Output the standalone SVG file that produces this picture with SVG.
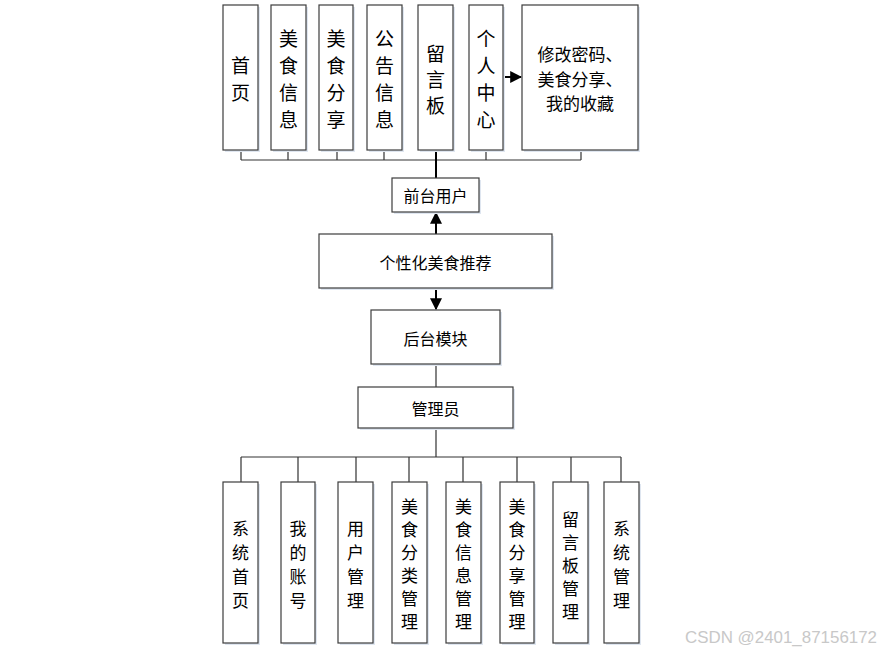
<svg xmlns="http://www.w3.org/2000/svg" width="880" height="653" viewBox="0 0 880 653">
<style>
.box{fill:#fff;stroke:#3c3c3c;stroke-width:1.2}
.sh{fill:#dfe6f0}
.t{font-family:"Noto Sans CJK SC","Liberation Sans",sans-serif;fill:#000;text-anchor:middle;dominant-baseline:central}
.t20{font-size:19px}
.t18{font-size:17px}
.t17{font-size:16px}
.ln{stroke:#333;stroke-width:1.2;fill:none}
.lb{stroke:#000;stroke-width:2;fill:none}
.wm{font-family:"Liberation Sans",Arial,sans-serif;font-size:16.5px;fill:#c8c8c8}
</style>
<defs>
<marker id="ah2" viewBox="0 0 10 10" refX="9" refY="5" markerWidth="12" markerHeight="12" orient="auto" markerUnits="userSpaceOnUse">
<path d="M0,0 L10,5 L0,10 z" fill="#000"/>
</marker>
</defs>
<rect width="880" height="653" fill="#fff"/>

<g id="connectors">
<path class="ln" d="M241,150V160M288,150V160M337,150V160M384,150V160M486,150V160M581,150V160M241,160H581"/>
<path class="lb" d="M436,150V178"/>
<path class="lb" d="M503,77H521" marker-end="url(#ah2)"/>
<path class="lb" d="M436,234V213" marker-end="url(#ah2)"/>
<path class="lb" d="M436,288V309" marker-end="url(#ah2)"/>
<path class="ln" d="M436,364V387M436,428V457M241,457H621M241,457V482M298,457V482M356,457V482M409,457V482M463,457V482M517,457V482M571,457V482M621,457V482"/>
</g>

<g id="n_shouye"><rect class="sh" x="225" y="7" width="35" height="145"/><rect class="box" x="223" y="5" width="35" height="145"/>
<text class="t t20" x="240.5"><tspan x="240.5" y="64">首</tspan><tspan x="240.5" y="91">页</tspan></text></g>
<g id="n_msxx"><rect class="sh" x="273" y="7" width="35" height="145"/><rect class="box" x="271" y="5" width="35" height="145"/>
<text class="t t20"><tspan x="288.5" y="37">美</tspan><tspan x="288.5" y="64">食</tspan><tspan x="288.5" y="91">信</tspan><tspan x="288.5" y="118">息</tspan></text></g>
<g id="n_msfx"><rect class="sh" x="321" y="7" width="34" height="145"/><rect class="box" x="319" y="5" width="34" height="145"/>
<text class="t t20"><tspan x="336" y="37">美</tspan><tspan x="336" y="64">食</tspan><tspan x="336" y="91">分</tspan><tspan x="336" y="118">享</tspan></text></g>
<g id="n_ggxx"><rect class="sh" x="369" y="7" width="35" height="145"/><rect class="box" x="367" y="5" width="35" height="145"/>
<text class="t t20"><tspan x="384.5" y="37">公</tspan><tspan x="384.5" y="64">告</tspan><tspan x="384.5" y="91">信</tspan><tspan x="384.5" y="118">息</tspan></text></g>
<g id="n_lyb"><rect class="sh" x="420" y="7" width="35" height="145"/><rect class="box" x="418" y="5" width="35" height="145"/>
<text class="t t20"><tspan x="435.5" y="52">留</tspan><tspan x="435.5" y="78">言</tspan><tspan x="435.5" y="104">板</tspan></text></g>
<g id="n_grzx"><rect class="sh" x="471" y="7" width="34" height="145"/><rect class="box" x="469" y="5" width="34" height="145"/>
<text class="t t20"><tspan x="486" y="37">个</tspan><tspan x="486" y="64">人</tspan><tspan x="486" y="91">中</tspan><tspan x="486" y="118">心</tspan></text></g>
<g id="n_xgmm"><rect class="sh" x="524" y="7" width="116" height="145"/><rect class="box" x="522" y="5" width="116" height="145"/>
<text class="t t18"><tspan x="580" y="53">修改密码、</tspan><tspan x="580" y="78">美食分享、</tspan><tspan x="580" y="102">我的收藏</tspan></text></g>

<g id="n_qtyh"><rect class="sh" x="394" y="180" width="87" height="34"/><rect class="box" x="392" y="178" width="87" height="34"/>
<text class="t t17" x="435.5" y="195">前台用户</text></g>
<g id="n_gxh"><rect class="sh" x="321" y="236" width="233" height="54"/><rect class="box" x="319" y="234" width="233" height="54"/>
<text class="t t17" x="435.5" y="262">个性化美食推荐</text></g>
<g id="n_htmk"><rect class="sh" x="373" y="312" width="129" height="54"/><rect class="box" x="371" y="310" width="129" height="54"/>
<text class="t t17" x="435.5" y="338">后台模块</text></g>
<g id="n_gly"><rect class="sh" x="360" y="389" width="155" height="41"/><rect class="box" x="358" y="387" width="155" height="41"/>
<text class="t t17" x="435.5" y="408">管理员</text></g>

<g id="n_xtsy"><rect class="sh" x="225" y="484" width="35" height="161"/><rect class="box" x="223" y="482" width="35" height="161"/>
<text class="t t18"><tspan x="240.5" y="527">系</tspan><tspan x="240.5" y="551">统</tspan><tspan x="240.5" y="575">首</tspan><tspan x="240.5" y="599">页</tspan></text></g>
<g id="n_wdzh"><rect class="sh" x="283" y="484" width="34" height="161"/><rect class="box" x="281" y="482" width="34" height="161"/>
<text class="t t18"><tspan x="298" y="527">我</tspan><tspan x="298" y="551">的</tspan><tspan x="298" y="575">账</tspan><tspan x="298" y="599">号</tspan></text></g>
<g id="n_yhgl"><rect class="sh" x="340" y="484" width="35" height="161"/><rect class="box" x="338" y="482" width="35" height="161"/>
<text class="t t18"><tspan x="355.5" y="527">用</tspan><tspan x="355.5" y="551">户</tspan><tspan x="355.5" y="575">管</tspan><tspan x="355.5" y="599">理</tspan></text></g>
<g id="n_msflgl"><rect class="sh" x="394" y="484" width="35" height="161"/><rect class="box" x="392" y="482" width="35" height="161"/>
<text class="t t18"><tspan x="409.5" y="505">美</tspan><tspan x="409.5" y="528">食</tspan><tspan x="409.5" y="551">分</tspan><tspan x="409.5" y="574">类</tspan><tspan x="409.5" y="597">管</tspan><tspan x="409.5" y="620">理</tspan></text></g>
<g id="n_msxxgl"><rect class="sh" x="448" y="484" width="35" height="161"/><rect class="box" x="446" y="482" width="35" height="161"/>
<text class="t t18"><tspan x="463.5" y="505">美</tspan><tspan x="463.5" y="528">食</tspan><tspan x="463.5" y="551">信</tspan><tspan x="463.5" y="574">息</tspan><tspan x="463.5" y="597">管</tspan><tspan x="463.5" y="620">理</tspan></text></g>
<g id="n_msfxgl"><rect class="sh" x="502" y="484" width="34" height="161"/><rect class="box" x="500" y="482" width="34" height="161"/>
<text class="t t18"><tspan x="517" y="505">美</tspan><tspan x="517" y="528">食</tspan><tspan x="517" y="551">分</tspan><tspan x="517" y="574">享</tspan><tspan x="517" y="597">管</tspan><tspan x="517" y="620">理</tspan></text></g>
<g id="n_lybgl"><rect class="sh" x="555" y="484" width="35" height="161"/><rect class="box" x="553" y="482" width="35" height="161"/>
<text class="t t18"><tspan x="570.5" y="518">留</tspan><tspan x="570.5" y="541">言</tspan><tspan x="570.5" y="564">板</tspan><tspan x="570.5" y="587">管</tspan><tspan x="570.5" y="610">理</tspan></text></g>
<g id="n_xtgl"><rect class="sh" x="606" y="484" width="35" height="161"/><rect class="box" x="604" y="482" width="35" height="161"/>
<text class="t t18"><tspan x="621.5" y="527">系</tspan><tspan x="621.5" y="551">统</tspan><tspan x="621.5" y="575">管</tspan><tspan x="621.5" y="599">理</tspan></text></g>

<text class="wm" x="685" y="643" textLength="192" lengthAdjust="spacingAndGlyphs">CSDN @2401_87156172</text>
</svg>
